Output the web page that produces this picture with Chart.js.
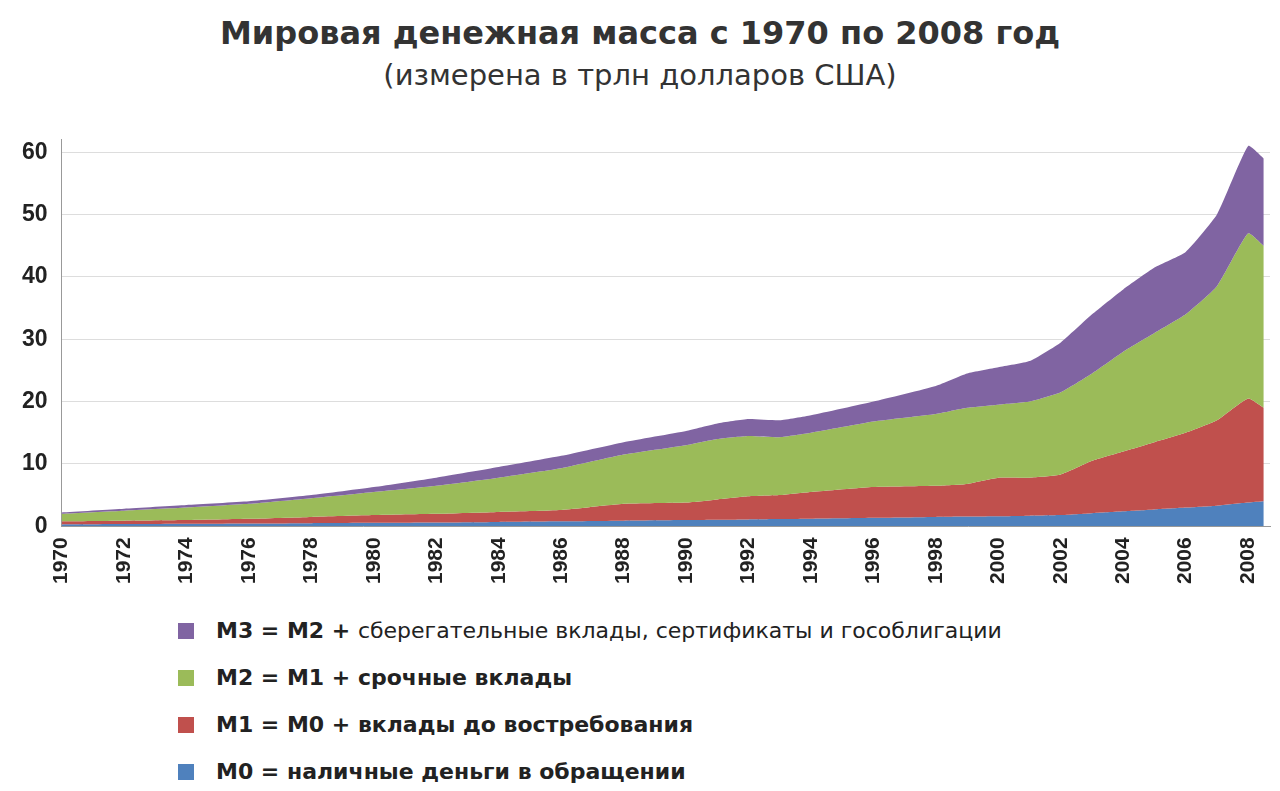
<!DOCTYPE html>
<html><head><meta charset="utf-8">
<script src="https://cdn.jsdelivr.net/npm/chart.js"></script>
<style>
body{margin:0;width:1280px;height:791px;background:#fff;font-family:"DejaVu Sans",sans-serif;overflow:hidden}
#t1{position:absolute;top:14px;left:0;width:1280px;text-align:center;font-weight:bold;font-size:32px;color:#333}
#t2{position:absolute;top:58px;left:0;width:1280px;text-align:center;font-size:29px;color:#333}
#wrap{position:absolute;left:8px;top:112px;width:1272px;height:475px}
#legend{position:absolute;left:178px;top:607px;font-size:22px;color:#222}
#legend div{height:47px;display:flex;align-items:center;white-space:pre}
#legend span.sw{display:inline-block;width:16px;height:16px;margin-right:22px}
</style></head><body>
<div id="t1">Мировая денежная масса с 1970 по 2008 год</div>
<div id="t2">(измерена в трлн долларов США)</div>
<div id="wrap"><canvas id="c"></canvas></div>
<div id="legend"></div>
<script>
// years and stacked tops of each aggregate (trillion USD)
const years = [1970,1972,1974,1976,1978,1980,1982,1984,1986,1988,1990,1991,1992,1993,1994,1996,1998,1999,2000,2001,2002,2003,2004,2005,2006,2007,2008,2008.5];
const m0 = [0.3,0.35,0.4,0.45,0.5,0.55,0.6,0.7,0.8,0.9,1.0,1.05,1.1,1.15,1.2,1.35,1.5,1.55,1.6,1.7,1.8,2.1,2.4,2.7,3.0,3.3,3.8,4.0];
const m1 = [0.8,0.9,1.0,1.2,1.5,1.8,2.0,2.3,2.6,3.6,3.8,4.3,4.8,5.0,5.5,6.3,6.5,6.8,7.8,7.8,8.3,10.5,12.0,13.5,15.0,17.0,20.5,19.0];
const m2 = [2.0,2.5,3.0,3.6,4.5,5.5,6.5,7.8,9.3,11.5,13.0,14.0,14.5,14.3,15.0,16.8,18.0,19.0,19.5,20.0,21.5,24.5,28.0,31.0,34.0,38.5,47.0,45.0];
const m3 = [2.2,2.8,3.4,4.0,5.0,6.3,7.8,9.5,11.3,13.5,15.3,16.5,17.2,17.0,17.8,20.0,22.5,24.5,25.5,26.5,29.5,34.0,38.0,41.5,44.0,50.0,61.0,59.0];
const labels = ['M3 = M2 + ','M2 = M1 + ','M1 = M0 + ','M0 = '];
const labelRest = ['сберегательные вклады, сертификаты и гособлигации','срочные вклады','вклады до востребования','наличные деньги в обращении'];
const colors = ['#8064a2','#9bbb59','#c0504d','#4f81bd'];
const series = [m3,m2,m1,m0];

const pts = arr => arr.map((v,i)=>({x:years[i],y:v}));
const datasets = series.map((s,i)=>({
  data: pts(s), backgroundColor: colors[i], borderWidth: 0, pointRadius: 0,
  fill: i===3 ? 'origin' : '+1', tension: 0.15
}));

new Chart(document.getElementById('c'), {
  type: 'line',
  data: { datasets },
  options: {
    responsive: true, maintainAspectRatio: false, animation: false,
    layout: { padding: { right: 10, top: 10 } },
    plugins: { legend: { display: false }, tooltip: { enabled: false } },
    scales: {
      x: { type: 'linear', min: 1970, max: 2008.7,
        afterBuildTicks: ax => { ax.ticks = []; for (let y=1970;y<=2008;y+=2) ax.ticks.push({value:y}); },
        ticks: { minRotation: 90, maxRotation: 90, color: '#222', callback: v => String(v),
          font: { size: 21, weight: 'bold', family: 'Liberation Sans' } },
        grid: { display: false }, border: { color: '#999' } },
      y: { min: 0, max: 62,
        afterBuildTicks: ax => { ax.ticks = [0,10,20,30,40,50,60].map(v=>({value:v})); },
        ticks: { color: '#222', padding: 14, font: { size: 23, weight: 'bold', family: 'Liberation Sans' } },
        grid: { color: '#ddd', drawTicks: false }, border: { color: '#999' } }
    }
  }
});

const lg = document.getElementById('legend');
labels.forEach((l,i)=>{
  const d = document.createElement('div');
  d.innerHTML = `<span class="sw" style="background:${colors[i]}"></span><b>${l}</b>${i===0?labelRest[i]:'<b>'+labelRest[i]+'</b>'}`;
  lg.appendChild(d);
});
</script></body></html>
